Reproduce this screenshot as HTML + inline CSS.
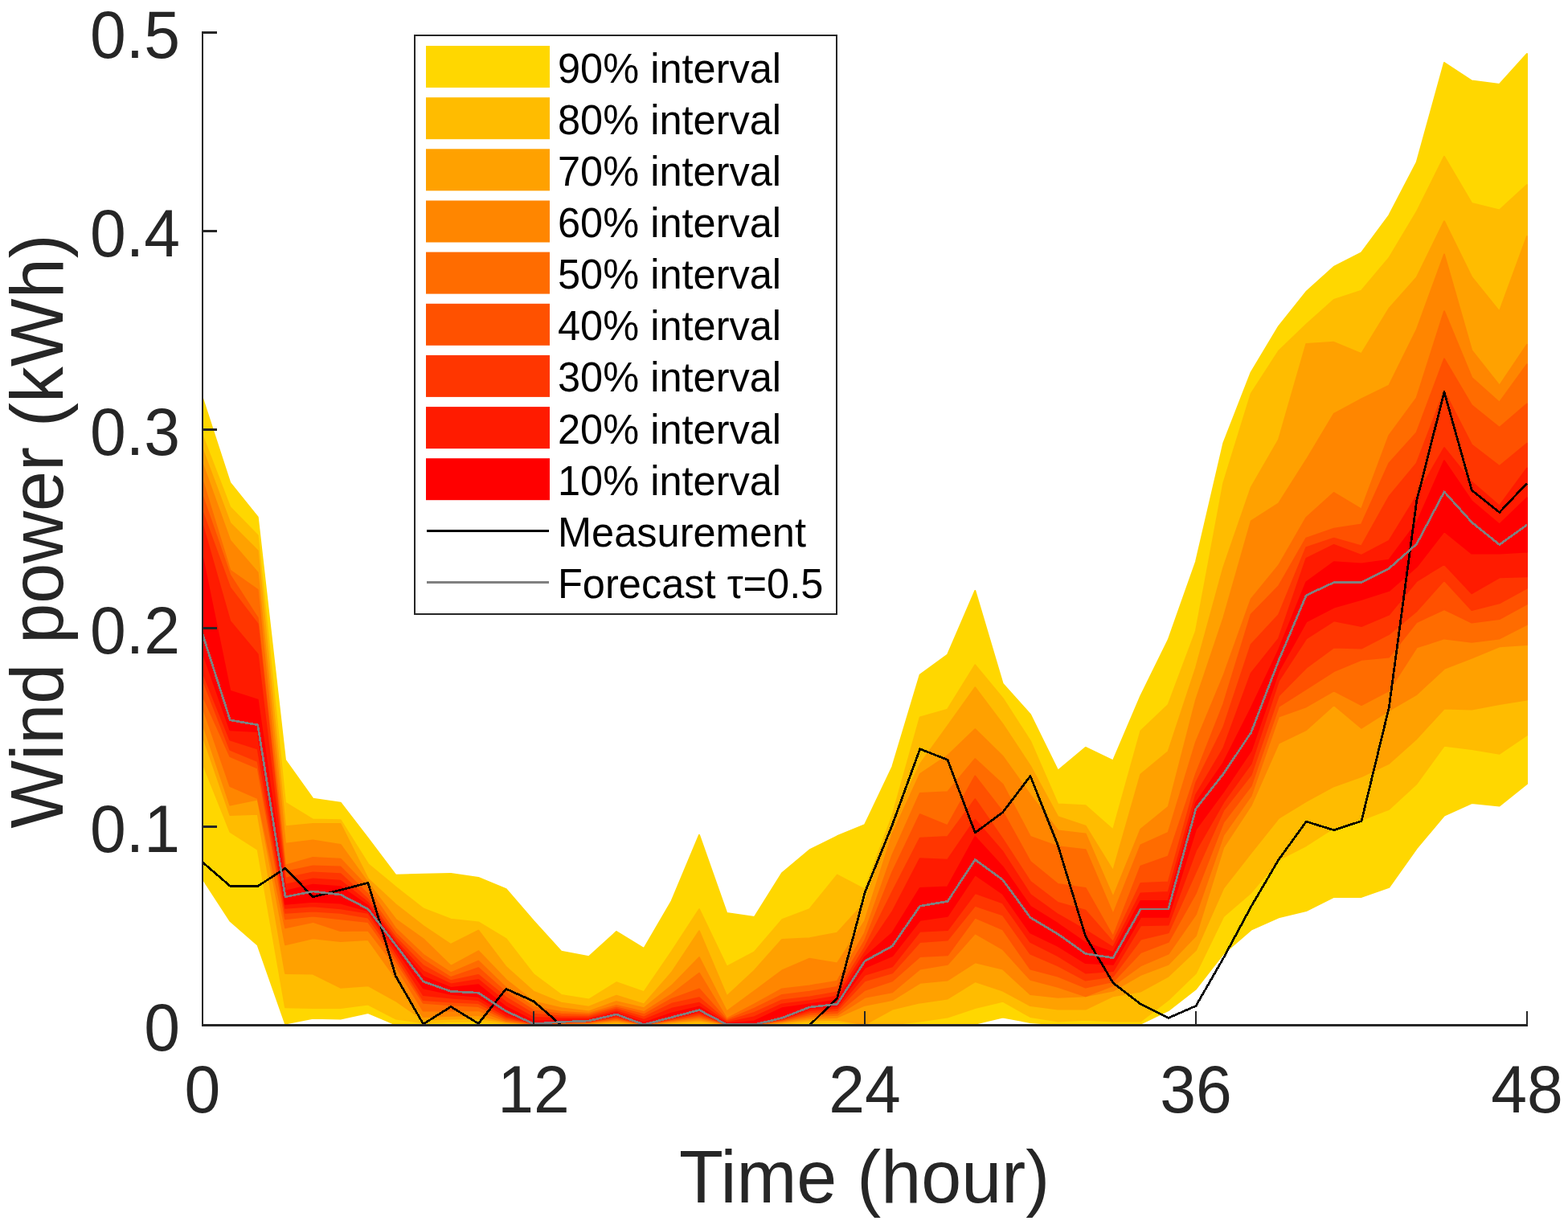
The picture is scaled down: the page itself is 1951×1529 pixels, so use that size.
<!DOCTYPE html>
<html lang="en"><head><meta charset="utf-8"><title>Wind power forecast intervals</title>
<style>
html,body{margin:0;padding:0;background:#fff;}
body{width:1951px;height:1529px;overflow:hidden;}
svg{display:block;font-family:"Liberation Sans",Arial,Helvetica,sans-serif;}
.tk{font-size:83px;fill:#262626;}
.lb{font-size:92.5px;fill:#262626;}
.lg{font-size:51px;fill:#000;}
</style></head><body>
<svg xmlns="http://www.w3.org/2000/svg" width="1951" height="1529" viewBox="0 0 1951 1529">
<rect x="0" y="0" width="1951" height="1529" fill="#ffffff"/>
<defs><clipPath id="pc"><rect x="251.0" y="39.5" width="1651.0" height="1237.0"/></clipPath></defs>
<g clip-path="url(#pc)" shape-rendering="geometricPrecision">
<polygon fill="#ffd700" stroke="#ffd700" stroke-width="2" stroke-linejoin="round" points="252.0,495.4 286.3,600.7 320.7,643.3 355.0,945.5 389.3,993.7 423.7,998.7 458.0,1043.0 492.3,1088.7 526.7,1087.8 561.0,1087.0 595.3,1092.0 629.7,1106.2 664.0,1145.9 698.3,1183.7 732.7,1190.3 767.0,1159.1 801.3,1180.1 835.7,1121.0 870.0,1038.9 904.3,1136.1 938.7,1141.0 973.0,1086.3 1007.3,1057.5 1041.7,1040.3 1076.0,1026.3 1110.3,954.1 1144.7,839.6 1179.0,814.6 1213.3,735.0 1247.7,850.7 1282.0,888.9 1316.3,958.7 1350.7,930.0 1385.0,946.4 1419.3,865.9 1453.7,796.0 1488.0,699.0 1522.3,551.4 1556.7,463.2 1591.0,406.0 1625.3,363.0 1659.7,331.9 1694.0,314.3 1728.3,268.0 1762.7,201.9 1797.0,78.0 1831.3,100.5 1865.7,104.9 1900.0,67.0 1900.0,974.9 1865.7,1002.4 1831.3,999.1 1797.0,1014.5 1762.7,1055.3 1728.3,1103.8 1694.0,1115.9 1659.7,1115.9 1625.3,1133.1 1591.0,1141.3 1556.7,1156.7 1522.3,1186.5 1488.0,1230.5 1453.7,1257.2 1419.3,1273.7 1385.0,1274.5 1350.7,1274.5 1316.3,1274.5 1282.0,1272.0 1247.7,1265.5 1213.3,1273.7 1179.0,1274.5 1144.7,1274.5 1110.3,1274.5 1076.0,1274.5 1041.7,1274.5 1007.3,1274.5 973.0,1274.5 938.7,1274.5 904.3,1274.5 870.0,1274.5 835.7,1274.5 801.3,1274.5 767.0,1274.5 732.7,1274.5 698.3,1274.5 664.0,1274.5 629.7,1274.5 595.3,1274.5 561.0,1274.5 526.7,1274.5 492.3,1274.5 458.0,1260.1 423.7,1267.5 389.3,1266.8 355.0,1273.6 320.7,1175.8 286.3,1145.7 252.0,1093.0"/>
<polygon fill="#ffbc00" stroke="#ffbc00" stroke-width="2" stroke-linejoin="round" points="252.0,542.0 286.3,631.0 320.7,666.3 355.0,998.7 389.3,1019.6 423.7,1020.2 458.0,1074.9 492.3,1103.6 526.7,1130.5 561.0,1143.7 595.3,1147.4 629.7,1168.0 664.0,1212.4 698.3,1237.9 732.7,1243.6 767.0,1222.3 801.3,1234.1 835.7,1183.7 870.0,1131.2 904.3,1202.6 938.7,1184.5 973.0,1144.3 1007.3,1131.2 1041.7,1088.6 1076.0,1106.7 1110.3,1015.0 1144.7,892.5 1179.0,882.6 1213.3,827.4 1247.7,868.8 1282.0,922.0 1316.3,1000.6 1350.7,1002.2 1385.0,1032.6 1419.3,909.4 1453.7,876.6 1488.0,785.0 1522.3,601.0 1556.7,489.7 1591.0,436.8 1625.3,403.7 1659.7,372.9 1694.0,361.7 1728.3,320.9 1762.7,263.6 1797.0,194.8 1831.3,253.0 1865.7,261.4 1900.0,230.1 1900.0,914.5 1865.7,937.7 1831.3,932.1 1797.0,927.7 1762.7,974.9 1728.3,1006.8 1694.0,1020.0 1659.7,1030.0 1625.3,1052.0 1591.0,1069.6 1556.7,1110.4 1522.3,1140.2 1488.0,1210.7 1453.7,1244.0 1419.3,1270.4 1385.0,1270.4 1350.7,1268.7 1316.3,1270.4 1282.0,1265.0 1247.7,1245.7 1213.3,1254.0 1179.0,1265.5 1144.7,1270.4 1110.3,1274.5 1076.0,1274.5 1041.7,1271.6 1007.3,1272.0 973.0,1273.5 938.7,1274.4 904.3,1274.4 870.0,1272.4 835.7,1273.4 801.3,1274.4 767.0,1273.0 732.7,1273.9 698.3,1274.0 664.0,1274.3 629.7,1273.0 595.3,1271.0 561.0,1271.1 526.7,1272.4 492.3,1267.4 458.0,1249.6 423.7,1253.9 389.3,1253.9 355.0,1253.3 320.7,1057.0 286.3,1034.8 252.0,949.0"/>
<polygon fill="#ffa100" stroke="#ffa100" stroke-width="2" stroke-linejoin="round" points="252.0,559.0 286.3,650.7 320.7,685.2 355.0,1028.2 389.3,1025.1 423.7,1025.1 458.0,1093.4 492.3,1125.2 526.7,1152.0 561.0,1175.0 595.3,1157.6 629.7,1203.0 664.0,1233.8 698.3,1247.7 732.7,1252.7 767.0,1238.7 801.3,1249.4 835.7,1210.0 870.0,1158.3 904.3,1239.5 938.7,1207.5 973.0,1168.9 1007.3,1167.3 1041.7,1160.7 1076.0,1123.0 1110.3,1025.0 1144.7,950.9 1179.0,903.3 1213.3,855.3 1247.7,901.0 1282.0,953.0 1316.3,1016.2 1350.7,1027.7 1385.0,1083.5 1419.3,963.6 1453.7,934.9 1488.0,831.0 1522.3,706.0 1556.7,606.5 1591.0,547.0 1625.3,428.0 1659.7,425.8 1694.0,440.1 1728.3,383.9 1762.7,345.2 1797.0,275.3 1831.3,345.0 1865.7,387.7 1900.0,294.1 1900.0,870.4 1865.7,875.9 1831.3,882.6 1797.0,881.5 1762.7,918.9 1728.3,949.8 1694.0,966.0 1659.7,978.2 1625.3,996.9 1591.0,1017.8 1556.7,1060.8 1522.3,1104.9 1488.0,1182.0 1453.7,1214.5 1419.3,1233.4 1385.0,1239.2 1350.7,1255.6 1316.3,1255.6 1282.0,1251.0 1247.7,1232.6 1213.3,1221.1 1179.0,1242.5 1144.7,1247.4 1110.3,1255.6 1076.0,1274.5 1041.7,1268.7 1007.3,1269.5 973.0,1272.5 938.7,1274.3 904.3,1274.3 870.0,1270.3 835.7,1272.3 801.3,1274.3 767.0,1271.5 732.7,1273.3 698.3,1273.6 664.0,1274.1 629.7,1272.0 595.3,1267.0 561.0,1267.5 526.7,1268.7 492.3,1245.0 458.0,1226.2 423.7,1228.7 389.3,1211.5 355.0,1210.9 320.7,1012.7 286.3,1013.9 252.0,914.6"/>
<polygon fill="#ff8600" stroke="#ff8600" stroke-width="2" stroke-linejoin="round" points="252.0,577.0 286.3,672.3 320.7,712.5 355.0,1049.7 389.3,1045.4 423.7,1050.9 458.0,1098.5 492.3,1143.7 526.7,1168.3 561.0,1201.8 595.3,1183.3 629.7,1219.0 664.0,1246.1 698.3,1254.3 732.7,1258.4 767.0,1246.1 801.3,1254.3 835.7,1226.4 870.0,1191.1 904.3,1258.4 938.7,1233.0 973.0,1207.5 1007.3,1192.7 1041.7,1198.5 1076.0,1146.0 1110.3,1038.0 1144.7,963.1 1179.0,940.2 1213.3,907.3 1247.7,941.0 1282.0,989.0 1316.3,1033.4 1350.7,1037.5 1385.0,1116.4 1419.3,1031.8 1453.7,1003.9 1488.0,871.0 1522.3,769.0 1556.7,648.4 1591.0,626.3 1625.3,572.4 1659.7,515.0 1694.0,496.3 1728.3,479.7 1762.7,410.3 1797.0,316.5 1831.3,436.2 1865.7,479.7 1900.0,428.8 1900.0,802.1 1865.7,804.3 1831.3,818.6 1797.0,831.9 1762.7,863.8 1728.3,884.0 1694.0,905.7 1659.7,877.0 1625.3,908.0 1591.0,924.5 1556.7,1002.0 1522.3,1054.2 1488.0,1164.0 1453.7,1199.8 1419.3,1212.9 1385.0,1232.6 1350.7,1239.2 1316.3,1240.8 1282.0,1237.0 1247.7,1205.5 1213.3,1197.3 1179.0,1219.5 1144.7,1222.8 1110.3,1244.1 1076.0,1250.7 1041.7,1265.7 1007.3,1267.0 973.0,1271.5 938.7,1274.2 904.3,1274.2 870.0,1268.2 835.7,1271.2 801.3,1274.2 767.0,1270.0 732.7,1272.7 698.3,1273.1 664.0,1273.9 629.7,1271.0 595.3,1263.0 561.0,1263.8 526.7,1265.0 492.3,1217.0 458.0,1169.0 423.7,1170.9 389.3,1167.2 355.0,1175.2 320.7,994.5 286.3,1001.6 252.0,899.5"/>
<polygon fill="#ff6c00" stroke="#ff6c00" stroke-width="2" stroke-linejoin="round" points="252.0,598.0 286.3,709.6 320.7,733.7 355.0,1076.8 389.3,1066.9 423.7,1068.8 458.0,1104.7 492.3,1155.0 526.7,1187.8 561.0,1210.4 595.3,1195.6 629.7,1228.9 664.0,1253.0 698.3,1259.0 732.7,1261.0 767.0,1251.0 801.3,1259.0 835.7,1237.0 870.0,1210.8 904.3,1267.5 938.7,1249.4 973.0,1230.5 1007.3,1226.4 1041.7,1220.7 1076.0,1160.7 1110.3,1063.8 1144.7,986.9 1179.0,985.3 1213.3,944.2 1247.7,976.0 1282.0,1041.0 1316.3,1053.2 1350.7,1057.2 1385.0,1137.7 1419.3,1051.5 1453.7,1035.9 1488.0,923.4 1522.3,841.0 1556.7,745.3 1591.0,703.5 1625.3,644.0 1659.7,613.1 1694.0,633.5 1728.3,541.9 1762.7,495.1 1797.0,387.2 1831.3,469.9 1865.7,500.7 1900.0,453.3 1900.0,776.8 1865.7,794.4 1831.3,798.8 1797.0,794.4 1762.7,805.4 1728.3,859.0 1694.0,877.0 1659.7,859.4 1625.3,879.2 1591.0,891.5 1556.7,990.0 1522.3,1039.0 1488.0,1137.5 1453.7,1186.6 1419.3,1201.4 1385.0,1226.0 1350.7,1239.2 1316.3,1227.7 1282.0,1218.7 1247.7,1180.9 1213.3,1161.2 1179.0,1199.8 1144.7,1205.5 1110.3,1234.3 1076.0,1240.8 1041.7,1262.8 1007.3,1264.5 973.0,1270.5 938.7,1274.1 904.3,1274.1 870.0,1266.1 835.7,1270.1 801.3,1274.1 767.0,1268.5 732.7,1272.1 698.3,1272.7 664.0,1273.7 629.7,1270.0 595.3,1257.0 561.0,1257.6 526.7,1257.6 492.3,1202.0 458.0,1157.4 423.7,1158.0 389.3,1146.9 355.0,1154.3 320.7,993.0 286.3,978.2 252.0,878.8"/>
<polygon fill="#ff5100" stroke="#ff5100" stroke-width="2" stroke-linejoin="round" points="252.0,617.0 286.3,715.5 320.7,768.9 355.0,1084.8 389.3,1077.4 423.7,1078.6 458.0,1113.0 492.3,1161.1 526.7,1194.7 561.0,1216.0 595.3,1204.3 629.7,1235.0 664.0,1257.4 698.3,1261.7 732.7,1263.0 767.0,1253.4 801.3,1262.3 835.7,1242.9 870.0,1230.5 904.3,1269.1 938.7,1254.7 973.0,1237.9 1007.3,1233.8 1041.7,1228.0 1076.0,1170.6 1110.3,1085.2 1144.7,1013.2 1179.0,1027.1 1213.3,965.6 1247.7,1010.0 1282.0,1072.0 1316.3,1100.0 1350.7,1104.9 1385.0,1165.6 1419.3,1077.7 1453.7,1065.4 1488.0,962.8 1522.3,876.0 1556.7,764.4 1591.0,729.3 1625.3,669.6 1659.7,657.7 1694.0,652.4 1728.3,576.3 1762.7,538.2 1797.0,446.5 1831.3,504.4 1865.7,532.0 1900.0,502.5 1900.0,751.4 1865.7,770.1 1831.3,774.5 1797.0,758.0 1762.7,774.0 1728.3,817.5 1694.0,820.8 1659.7,835.2 1625.3,857.2 1591.0,879.0 1556.7,977.6 1522.3,1023.0 1488.0,1111.0 1453.7,1171.9 1419.3,1185.0 1385.0,1221.1 1350.7,1228.5 1316.3,1214.5 1282.0,1205.5 1247.7,1156.3 1213.3,1141.5 1179.0,1188.3 1144.7,1189.9 1110.3,1220.3 1076.0,1231.8 1041.7,1259.9 1007.3,1262.0 973.0,1269.5 938.7,1274.1 904.3,1274.1 870.0,1264.0 835.7,1269.0 801.3,1274.1 767.0,1267.0 732.7,1271.4 698.3,1272.2 664.0,1273.6 629.7,1268.0 595.3,1252.0 561.0,1250.2 526.7,1247.8 492.3,1195.0 458.0,1146.9 423.7,1143.2 389.3,1139.5 355.0,1143.2 320.7,955.5 286.3,941.0 252.0,864.7"/>
<polygon fill="#ff3600" stroke="#ff3600" stroke-width="2" stroke-linejoin="round" points="252.0,637.0 286.3,731.2 320.7,776.3 355.0,1092.8 389.3,1085.4 423.7,1087.2 458.0,1119.0 492.3,1166.3 526.7,1201.5 561.0,1220.3 595.3,1212.9 629.7,1241.0 664.0,1261.7 698.3,1264.4 732.7,1265.0 767.0,1255.8 801.3,1265.7 835.7,1248.8 870.0,1241.2 904.3,1270.8 938.7,1259.9 973.0,1244.5 1007.3,1240.4 1041.7,1234.6 1076.0,1178.8 1110.3,1109.8 1144.7,1042.7 1179.0,1041.1 1213.3,994.3 1247.7,1044.1 1282.0,1096.7 1316.3,1123.0 1350.7,1132.8 1385.0,1172.2 1419.3,1099.1 1453.7,1097.5 1488.0,974.3 1522.3,905.0 1556.7,801.9 1591.0,765.0 1625.3,681.1 1659.7,669.8 1694.0,679.5 1728.3,617.9 1762.7,576.3 1797.0,487.0 1831.3,553.6 1865.7,580.0 1900.0,551.7 1900.0,731.6 1865.7,750.3 1831.3,759.1 1797.0,721.7 1762.7,760.2 1728.3,788.9 1694.0,806.5 1659.7,805.4 1625.3,830.8 1591.0,865.5 1556.7,964.0 1522.3,1008.0 1488.0,1084.5 1453.7,1160.4 1419.3,1168.6 1385.0,1214.5 1350.7,1219.5 1316.3,1201.4 1282.0,1186.6 1247.7,1138.2 1213.3,1126.7 1179.0,1169.4 1144.7,1171.9 1110.3,1210.4 1076.0,1220.3 1041.7,1257.0 1007.3,1259.5 973.0,1268.5 938.7,1274.0 904.3,1274.0 870.0,1261.9 835.7,1267.9 801.3,1274.0 767.0,1265.5 732.7,1270.8 698.3,1271.8 664.0,1273.4 629.7,1266.0 595.3,1248.0 561.0,1246.5 526.7,1244.1 492.3,1190.0 458.0,1141.4 423.7,1135.8 389.3,1133.4 355.0,1135.8 320.7,947.0 286.3,932.8 252.0,844.5"/>
<polygon fill="#ff1b00" stroke="#ff1b00" stroke-width="2" stroke-linejoin="round" points="252.0,653.0 286.3,773.0 320.7,814.2 355.0,1100.8 389.3,1093.4 423.7,1095.8 458.0,1123.0 492.3,1170.4 526.7,1208.4 561.0,1224.5 595.3,1219.0 629.7,1247.0 664.0,1266.1 698.3,1267.0 732.7,1267.0 767.0,1258.2 801.3,1269.0 835.7,1254.8 870.0,1247.7 904.3,1272.4 938.7,1265.2 973.0,1249.4 1007.3,1245.3 1041.7,1239.5 1076.0,1185.4 1110.3,1134.4 1144.7,1068.2 1179.0,1069.8 1213.3,1019.8 1247.7,1059.7 1282.0,1113.1 1316.3,1137.7 1350.7,1157.4 1385.0,1178.8 1419.3,1111.5 1453.7,1110.0 1488.0,989.0 1522.3,931.0 1556.7,837.5 1591.0,794.5 1625.3,695.0 1659.7,678.0 1694.0,691.0 1728.3,672.9 1762.7,617.0 1797.0,557.2 1831.3,599.8 1865.7,629.4 1900.0,582.5 1900.0,717.2 1865.7,718.3 1831.3,738.2 1797.0,701.8 1762.7,722.8 1728.3,764.6 1694.0,779.0 1659.7,772.3 1625.3,794.4 1591.0,847.0 1556.7,950.0 1522.3,998.0 1488.0,1058.1 1453.7,1150.5 1419.3,1151.3 1385.0,1208.0 1350.7,1210.4 1316.3,1189.1 1282.0,1171.9 1247.7,1123.4 1213.3,1111.1 1179.0,1157.1 1144.7,1158.7 1110.3,1202.2 1076.0,1212.9 1041.7,1254.0 1007.3,1257.0 973.0,1267.5 938.7,1273.9 904.3,1273.9 870.0,1259.8 835.7,1266.8 801.3,1273.9 767.0,1264.0 732.7,1270.2 698.3,1271.3 664.0,1273.2 629.7,1264.0 595.3,1244.1 561.0,1241.6 526.7,1237.9 492.3,1185.0 458.0,1135.8 423.7,1130.3 389.3,1127.2 355.0,1129.7 320.7,931.5 286.3,920.5 252.0,835.8"/>
<polygon fill="#ff0000" stroke="#ff0000" stroke-width="2" stroke-linejoin="round" points="252.0,693.0 286.3,859.7 320.7,870.8 355.0,1108.8 389.3,1100.8 423.7,1103.2 458.0,1127.0 492.3,1173.4 526.7,1215.2 561.0,1228.9 595.3,1225.2 629.7,1253.0 664.0,1270.4 698.3,1269.7 732.7,1269.0 767.0,1260.6 801.3,1272.4 835.7,1260.7 870.0,1252.7 904.3,1274.1 938.7,1270.4 973.0,1254.3 1007.3,1249.4 1041.7,1244.5 1076.0,1191.1 1110.3,1160.7 1144.7,1105.1 1179.0,1103.5 1213.3,1041.1 1247.7,1078.6 1282.0,1127.9 1316.3,1149.2 1350.7,1173.0 1385.0,1185.3 1419.3,1121.0 1453.7,1121.0 1488.0,999.0 1522.3,949.0 1556.7,881.0 1591.0,809.0 1625.3,724.4 1659.7,699.2 1694.0,701.6 1728.3,696.7 1762.7,650.7 1797.0,573.2 1831.3,623.6 1865.7,652.4 1900.0,619.5 1900.0,686.4 1865.7,688.6 1831.3,688.6 1797.0,661.0 1762.7,705.1 1728.3,734.9 1694.0,745.7 1659.7,755.6 1625.3,773.4 1591.0,835.0 1556.7,934.0 1522.3,985.0 1488.0,1031.6 1453.7,1140.7 1419.3,1140.7 1385.0,1199.8 1350.7,1198.1 1316.3,1176.8 1282.0,1160.4 1247.7,1111.9 1213.3,1088.1 1179.0,1139.8 1144.7,1144.8 1110.3,1189.1 1076.0,1203.9 1041.7,1251.1 1007.3,1254.5 973.0,1266.5 938.7,1273.8 904.3,1274.1 870.0,1257.7 835.7,1265.7 801.3,1273.8 767.0,1262.5 732.7,1269.6 698.3,1270.9 664.0,1273.0 629.7,1261.0 595.3,1239.8 561.0,1236.7 526.7,1229.3 492.3,1180.0 458.0,1133.0 423.7,1123.5 389.3,1121.7 355.0,1124.8 320.7,910.0 286.3,908.2 252.0,810.8"/>
<polyline fill="none" stroke="#000" stroke-width="2.7" stroke-linejoin="round" shape-rendering="crispEdges" points="252.0,1072.7 286.3,1102.3 320.7,1102.6 355.0,1080.1 389.3,1115.8 423.7,1107.2 458.0,1098.4 492.3,1214.3 526.7,1274.0 561.0,1252.5 595.3,1273.4 629.7,1230.3 664.0,1245.7 698.3,1275.5 732.7,1275.5 767.0,1275.5 801.3,1275.5 835.7,1275.5 870.0,1275.5 904.3,1275.5 938.7,1275.5 973.0,1275.5 1007.3,1275.5 1041.7,1241.8 1076.0,1110.8 1110.3,1026.0 1144.7,931.8 1179.0,945.3 1213.3,1036.0 1247.7,1010.6 1282.0,965.5 1316.3,1051.5 1350.7,1164.8 1385.0,1222.9 1419.3,1249.2 1453.7,1266.5 1488.0,1251.5 1522.3,1191.9 1556.7,1127.9 1591.0,1069.5 1625.3,1022.1 1659.7,1032.7 1694.0,1021.5 1728.3,880.2 1762.7,623.1 1797.0,487.6 1831.3,609.9 1865.7,637.5 1900.0,601.1"/>
<polyline fill="none" stroke="#808080" stroke-width="2.7" stroke-linejoin="round" shape-rendering="crispEdges" points="252.0,788.6 286.3,895.9 320.7,901.8 355.0,1115.8 389.3,1109.0 423.7,1113.0 458.0,1131.0 492.3,1175.5 526.7,1221.1 561.0,1233.4 595.3,1235.2 629.7,1258.0 664.0,1273.8 698.3,1271.4 732.7,1270.0 767.0,1262.0 801.3,1274.7 835.7,1265.6 870.0,1256.6 904.3,1274.7 938.7,1274.7 973.0,1266.5 1007.3,1253.0 1041.7,1249.2 1076.0,1195.8 1110.3,1177.0 1144.7,1127.2 1179.0,1121.4 1213.3,1069.5 1247.7,1094.6 1282.0,1141.5 1316.3,1162.0 1350.7,1186.5 1385.0,1191.7 1419.3,1131.0 1453.7,1131.0 1488.0,1006.1 1522.3,962.6 1556.7,911.3 1591.0,821.8 1625.3,740.6 1659.7,724.6 1694.0,724.6 1728.3,707.2 1762.7,676.8 1797.0,611.8 1831.3,649.8 1865.7,677.6 1900.0,653.0"/>
</g>
<g stroke="#262626" stroke-width="2" fill="none" stroke-linecap="butt" shape-rendering="crispEdges">
<path d="M252.0 39.0 V1277.0"/>
<path d="M251.0 1275.5 H1901.0" stroke-width="3"/>
<path d="M252.0 1275.5 h18.0" stroke-width="3"/>
<path d="M252.0 1028.5 h18.0" stroke-width="3"/>
<path d="M252.0 781.5 h18.0" stroke-width="3"/>
<path d="M252.0 534.5 h18.0" stroke-width="3"/>
<path d="M252.0 287.5 h18.0" stroke-width="3"/>
<path d="M252.0 40.5 h18.0" stroke-width="3"/>
<path d="M252.0 1275.5 v-18.0" stroke-width="2"/>
<path d="M664.0 1275.5 v-18.0" stroke-width="2"/>
<path d="M1076.0 1275.5 v-18.0" stroke-width="2"/>
<path d="M1488.0 1275.5 v-18.0" stroke-width="2"/>
<path d="M1900.0 1275.5 v-18.0" stroke-width="2"/>
</g>
<text class="tk" transform="translate(224.0 1306.5) scale(0.97 1)" text-anchor="end">0</text>
<text class="tk" transform="translate(224.0 1059.5) scale(0.97 1)" text-anchor="end">0.1</text>
<text class="tk" transform="translate(224.0 812.5) scale(0.97 1)" text-anchor="end">0.2</text>
<text class="tk" transform="translate(224.0 565.5) scale(0.97 1)" text-anchor="end">0.3</text>
<text class="tk" transform="translate(224.0 318.5) scale(0.97 1)" text-anchor="end">0.4</text>
<text class="tk" transform="translate(224.0 71.5) scale(0.97 1)" text-anchor="end">0.5</text>
<text class="tk" transform="translate(252.0 1384.0) scale(0.97 1)" text-anchor="middle">0</text>
<text class="tk" transform="translate(664.0 1384.0) scale(0.97 1)" text-anchor="middle">12</text>
<text class="tk" transform="translate(1076.0 1384.0) scale(0.97 1)" text-anchor="middle">24</text>
<text class="tk" transform="translate(1488.0 1384.0) scale(0.97 1)" text-anchor="middle">36</text>
<text class="tk" transform="translate(1900.0 1384.0) scale(0.97 1)" text-anchor="middle">48</text>
<text class="lb" transform="translate(1075.5 1496.0) scale(0.972 1)" text-anchor="middle">Time (hour)</text>
<text class="lb" transform="translate(78.0 661.0) rotate(-90) scale(0.972 1)" text-anchor="middle">Wind power (kWh)</text>
<rect x="516.0" y="44.0" width="525.0" height="720.0" fill="#fff" stroke="#262626" stroke-width="2"/>
<rect x="530.0" y="57.0" width="154.0" height="52.0" fill="#ffd700"/>
<text class="lg" transform="translate(694.0 102.5) scale(0.991 1)" text-anchor="start">90% interval</text>
<rect x="530.0" y="121.2" width="154.0" height="52.0" fill="#ffbc00"/>
<text class="lg" transform="translate(694.0 166.7) scale(0.991 1)" text-anchor="start">80% interval</text>
<rect x="530.0" y="185.3" width="154.0" height="52.0" fill="#ffa100"/>
<text class="lg" transform="translate(694.0 230.8) scale(0.991 1)" text-anchor="start">70% interval</text>
<rect x="530.0" y="249.5" width="154.0" height="52.0" fill="#ff8600"/>
<text class="lg" transform="translate(694.0 295.0) scale(0.991 1)" text-anchor="start">60% interval</text>
<rect x="530.0" y="313.6" width="154.0" height="52.0" fill="#ff6c00"/>
<text class="lg" transform="translate(694.0 359.1) scale(0.991 1)" text-anchor="start">50% interval</text>
<rect x="530.0" y="377.8" width="154.0" height="52.0" fill="#ff5100"/>
<text class="lg" transform="translate(694.0 423.2) scale(0.991 1)" text-anchor="start">40% interval</text>
<rect x="530.0" y="441.9" width="154.0" height="52.0" fill="#ff3600"/>
<text class="lg" transform="translate(694.0 487.4) scale(0.991 1)" text-anchor="start">30% interval</text>
<rect x="530.0" y="506.1" width="154.0" height="52.0" fill="#ff1b00"/>
<text class="lg" transform="translate(694.0 551.6) scale(0.991 1)" text-anchor="start">20% interval</text>
<rect x="530.0" y="570.2" width="154.0" height="52.0" fill="#ff0000"/>
<text class="lg" transform="translate(694.0 615.7) scale(0.991 1)" text-anchor="start">10% interval</text>
<path d="M531.0 660.5 H683.0" stroke="#000" stroke-width="3" fill="none" shape-rendering="crispEdges"/>
<text class="lg" transform="translate(694.0 679.9) scale(0.991 1)" text-anchor="start">Measurement</text>
<path d="M531.0 724.5 H683.0" stroke="#808080" stroke-width="3" fill="none" shape-rendering="crispEdges"/>
<text class="lg" transform="translate(694.0 744.0) scale(0.991 1)" text-anchor="start">Forecast τ=0.5</text>
</svg></body></html>
